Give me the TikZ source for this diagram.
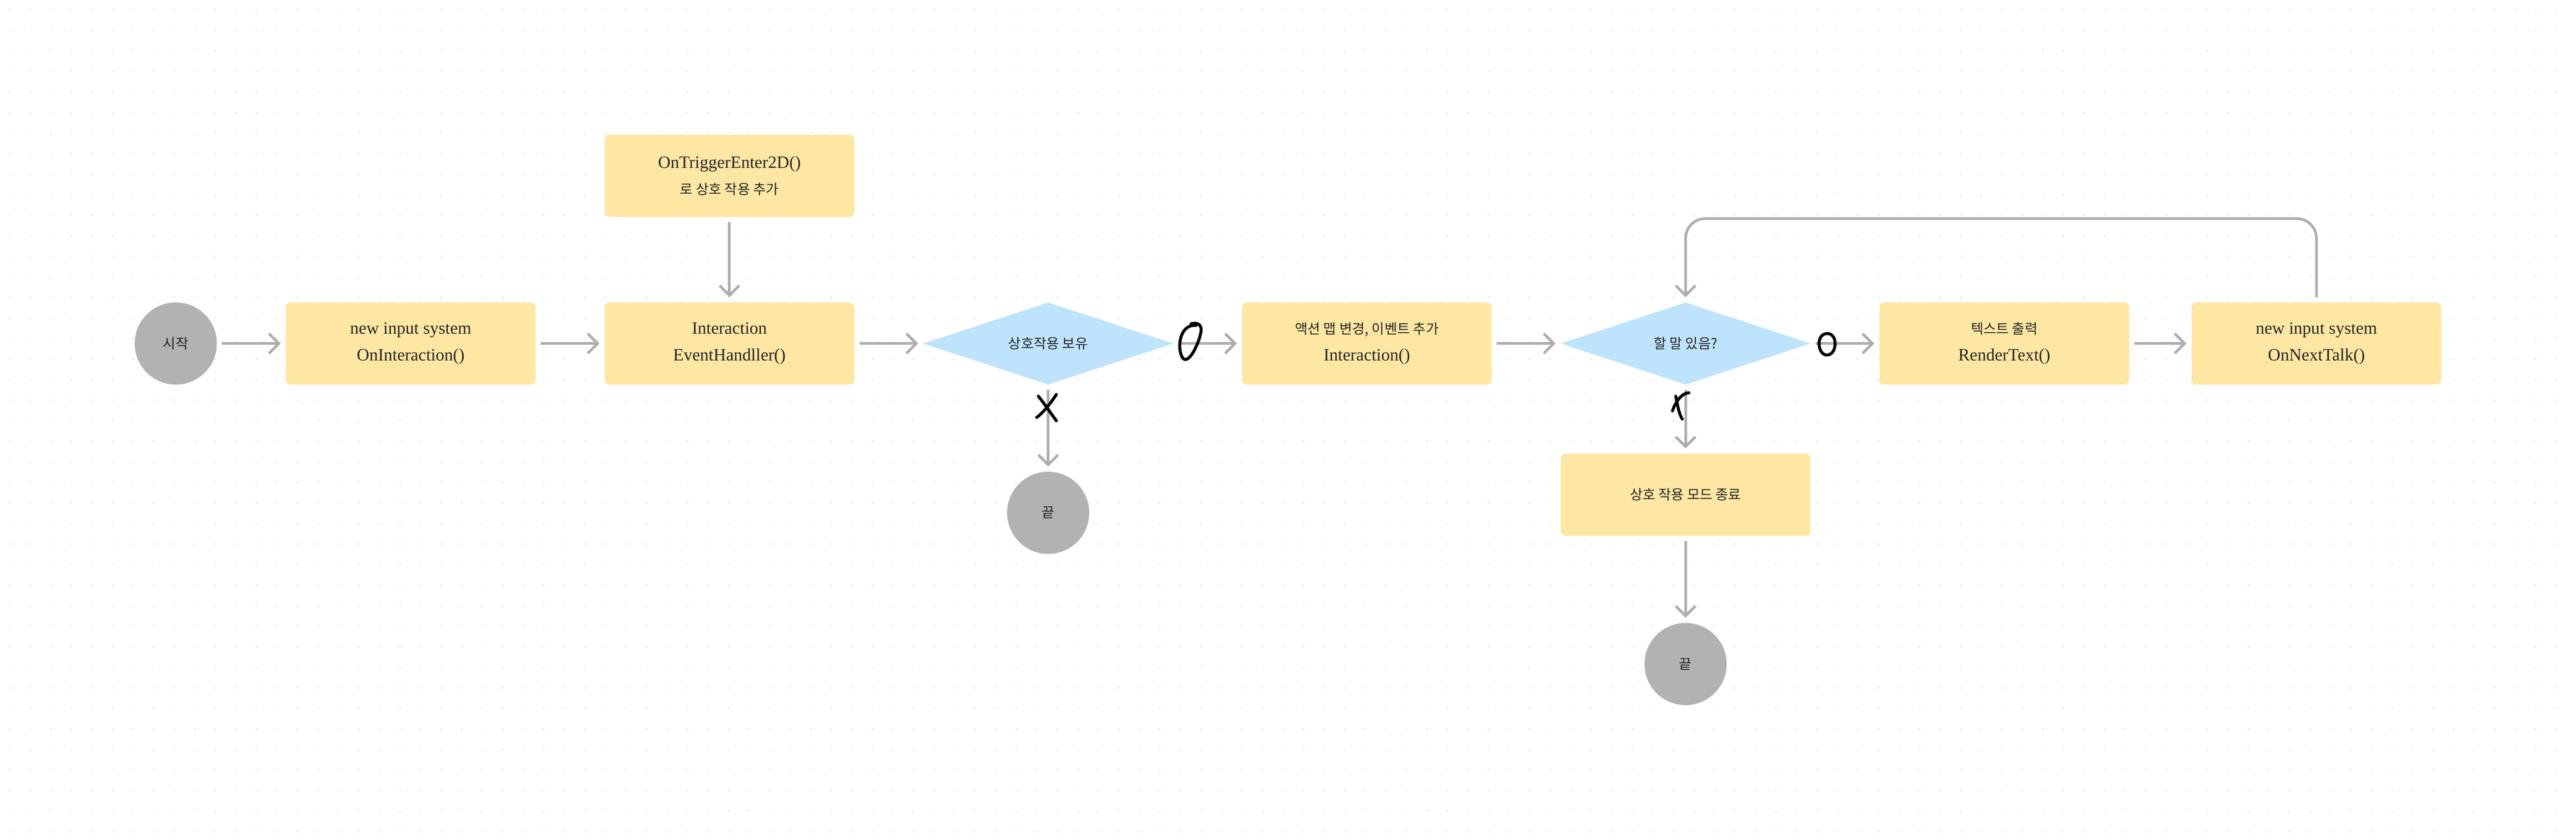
\documentclass[tikz,border=0pt]{standalone}
\usepackage{fontspec}
\setmainfont{Liberation Serif}
\newfontfamily\kr{Noto Sans CJK KR}
\usetikzlibrary{shapes.geometric,arrows.meta}
\definecolor{boxy}{HTML}{FEE7A3}
\definecolor{diab}{HTML}{BEE3FD}
\definecolor{endg}{HTML}{B2B2B2}
\definecolor{lineg}{HTML}{ADADAD}
\tikzset{
 procbox/.style={fill=boxy,rounded corners=1.5mm,minimum width=76mm,minimum height=25mm,align=center,font=\fontsize{15}{23}\selectfont,text=black!85},
 decision/.style={diamond,fill=diab,minimum width=76mm,minimum height=25mm,aspect=3.04,inner sep=0pt,font=\kr\fontsize{12}{18}\selectfont,text=black!85},
 terminal/.style={circle,fill=endg,minimum size=25mm,inner sep=0pt,font=\kr\fontsize{12}{18}\selectfont,text=black!85},
 flow/.style={draw=lineg,line width=0.8mm,-{Straight Barb[length=3mm,width=6mm,line width=0.8mm]}},
 hand/.style={draw=black,line width=0.9mm,line cap=round,line join=round},
}
\begin{document}
\begin{tikzpicture}[x=0.5mm,y=-0.5mm]
\useasboundingbox (0,0) rectangle (1568,511);
\fill[white] (0,0) rectangle (1568,511);
\foreach \i in {0,...,125}{\foreach \j in {0,...,40}{\fill[black!10] (6+12.5*\i,6+12.5*\j) circle (0.3mm);}}
\node[terminal] (start) at (107,209) {시작};
\node[procbox] (b1) at (250,209) {new input system\\OnInteraction()};
\node[procbox] (b0) at (444,107) {OnTriggerEnter2D()\\{\kr\fontsize{12}{23}\selectfont 로 상호 작용 추가}};
\node[procbox] (b2) at (444,209) {Interaction\\EventHandller()};
\node[decision] (d1) at (638,209) {상호작용 보유};
\node[terminal] (e1) at (638,312) {끝};
\node[procbox] (b3) at (832,209) {{\kr\fontsize{12}{23}\selectfont 액션 맵 변경, 이벤트 추가}\\Interaction()};
\node[decision] (d2) at (1026,209) {할 말 있음?};
\node[procbox] (b4) at (1026,301) {\kr\fontsize{12}{23}\selectfont 상호 작용 모드 종료};
\node[terminal] (e2) at (1026,404) {끝};
\node[procbox] (b5) at (1220,209) {{\kr\fontsize{12}{23}\selectfont 텍스트 출력}\\RenderText()};
\node[procbox] (b6) at (1410,209) {new input system\\OnNextTalk()};
\draw[flow] ([xshift=1.5mm]start.east) -- ([xshift=-1.5mm]b1.west);
\draw[flow] ([xshift=1.5mm]b1.east) -- ([xshift=-1.5mm]b2.west);
\draw[flow] ([yshift=-1.5mm]b0.south) -- ([yshift=1.5mm]b2.north);
\draw[flow] ([xshift=1.5mm]b2.east) -- ([xshift=-1.5mm]d1.west);
\draw[flow] ([xshift=1.5mm]d1.east) -- ([xshift=-1.5mm]b3.west);
\draw[flow] ([yshift=-1.5mm]d1.south) -- ([yshift=1.5mm]e1.north);
\draw[flow] ([xshift=1.5mm]b3.east) -- ([xshift=-1.5mm]d2.west);
\draw[flow] ([xshift=1.5mm]d2.east) -- ([xshift=-1.5mm]b5.west);
\draw[flow] ([yshift=-1.5mm]d2.south) -- ([yshift=1.5mm]b4.north);
\draw[flow] ([yshift=-1.5mm]b4.south) -- ([yshift=1.5mm]e2.north);
\draw[flow] ([xshift=1.5mm]b5.east) -- ([xshift=-1.5mm]b6.west);
\draw[flow,rounded corners=6mm] ([yshift=1.5mm]b6.north) |- (1026,133) -- ([yshift=1.5mm]d2.north);
% hand-drawn marks
\draw[hand] (728,198) .. controls (718,197) and (716,212) .. (720,218) .. controls (724,222) and (730,208) .. (731,202) .. controls (732,197) and (728,196) .. (725,197);
\draw[hand] (632,241) .. controls (636,246) and (640,252) .. (643,256);
\draw[hand] (643,240) .. controls (639,246) and (635,251) .. (631,254);
\draw[hand] (1113,203) .. controls (1105,202) and (1106,216) .. (1112,216) .. controls (1118,216) and (1119,204) .. (1113,203);
\draw[hand] (1020,241) .. controls (1021,246) and (1022,252) .. (1024,255);
\draw[hand] (1028,239) .. controls (1024,239) and (1020,244) .. (1018,250);
\end{tikzpicture}
\end{document}
